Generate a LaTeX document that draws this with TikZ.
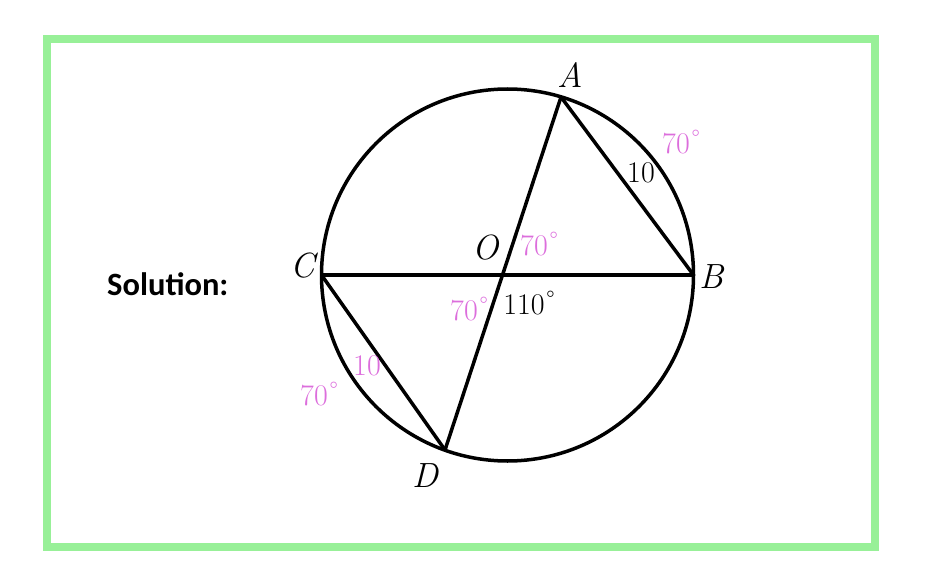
\documentclass[tikz,border=0pt]{standalone}
\usepackage{fontspec}
\newfontfamily\calibri{Carlito}
\definecolor{framegreen}{RGB}{152,240,152}
\definecolor{pinklab}{RGB}{220,110,220}
\newcommand{\degmark}{\rlap{\hspace{0.06em}\raisebox{0.22em}{\fontsize{24}{24}\selectfont°}}}
\tikzset{
  frameline/.style={draw=framegreen, line width=8pt},
  geo/.style={draw=black, line width=3.5pt, line join=round},
  ptlabel/.style={inner sep=0pt, font=\fontsize{35}{40}\selectfont\itshape},
  numlabel/.style={inner sep=0pt, font=\fontsize{30}{34}\selectfont},
  pinknum/.style={numlabel, text=pinklab},
}
\begin{document}
\begin{tikzpicture}[x=1pt,y=-1pt]
\useasboundingbox (0,0) rectangle (934,588);
\draw[frameline] (47,39) rectangle (875,547);
\coordinate (Oc) at (507.5,275);
\coordinate (A) at (561,97);
\coordinate (B) at (693.5,275);
\coordinate (C) at (321.5,275);
\coordinate (D) at (445,450);
\draw[geo] (Oc) circle[radius=186];
\draw[geo] (C) -- (B);
\draw[geo] (A) -- (D);
\draw[geo] (A) -- (B);
\draw[geo] (C) -- (D);
\node[ptlabel] (lA) at (570,75) {A};
\node[ptlabel] (lB) at (712,277) {B};
\node[ptlabel] (lC) at (303,266) {C};
\node[ptlabel] (lD) at (425,476) {D};
\node[ptlabel] (lO) at (486,248) {O};
\node[inner sep=0pt, anchor=base west, font=\calibri\bfseries\fontsize{32.5}{36}\selectfont] (sol) at (107,295) {Solution:};
\node[pinknum] (a1) at (676,142) {70\degmark};
\node[numlabel] (n1) at (641,173) {10};
\node[pinknum] (a2) at (534,244) {70\degmark};
\node[numlabel] (a3) at (524,303) {110\degmark};
\node[pinknum] (a4) at (464,309) {70\degmark};
\node[pinknum] (n2) at (367,366) {10};
\node[pinknum] (a5) at (314,394) {70\degmark};
\end{tikzpicture}
\end{document}
